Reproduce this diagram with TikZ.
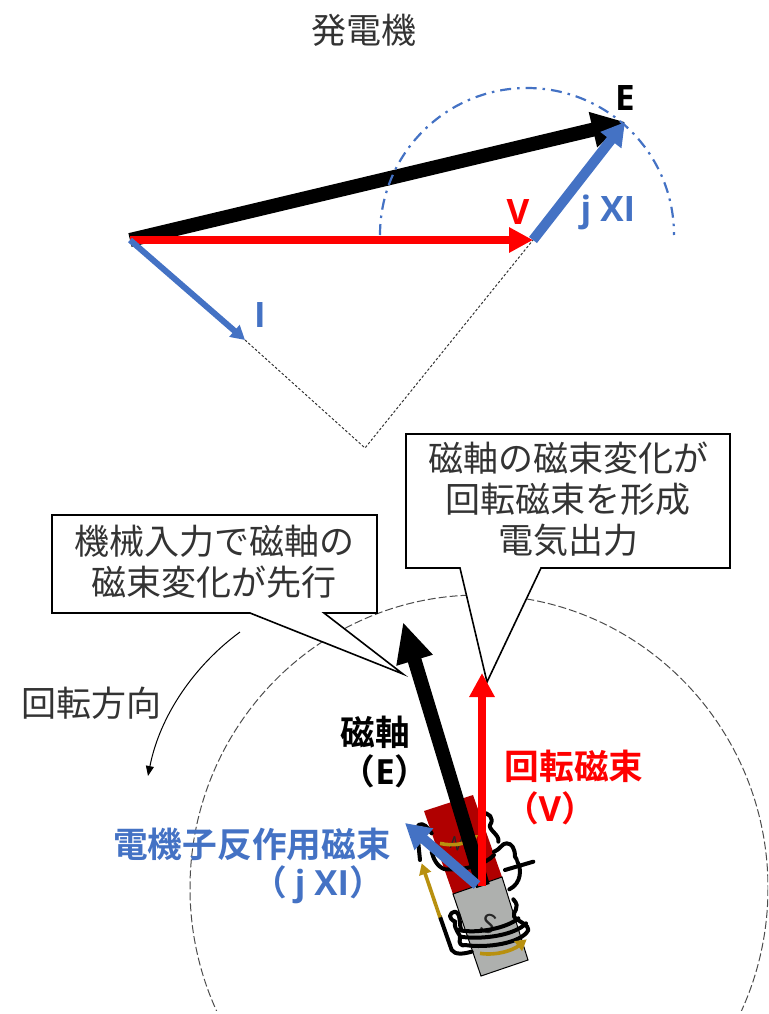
\documentclass[tikz,border=0pt]{standalone}
\usepackage{fontspec}
\setmainfont{Noto Sans CJK JP}[BoldFont={Noto Sans CJK JP Bold}]
\newfontfamily\latn{Open Sans}
\usetikzlibrary{arrows.meta}
\definecolor{vblue}{HTML}{4472C4}
\definecolor{gold}{HTML}{B8900F}
\definecolor{rotorred}{HTML}{B00000}
\definecolor{rotorgray}{HTML}{AEB0AE}
\tikzset{
 txt/.style={font=\fontsize{35}{41}\selectfont,text=black!80,inner sep=0pt,align=center},
 lab/.style={font=\fontsize{34.7}{41}\selectfont\bfseries,inner sep=0pt,align=center},
 ltn/.style={font=\fontsize{35}{41}\selectfont\latn\bfseries,inner sep=0pt,align=center},
 callout/.style={draw=black,line width=1.6pt,fill=white,line join=miter},
 wire/.style={draw=black,line width=4pt,line cap=round,line join=round},
 goldarrow/.style={draw=gold,line width=3.6pt,-{Triangle[length=11pt,width=12pt]}},
}
\begin{document}
\begin{tikzpicture}[x=1pt,y=-1pt]
\useasboundingbox (0,0) rectangle (768,1014);
\coordinate (O) at (130,240);
\coordinate (Vt) at (533,240);
\coordinate (Et) at (625,122);
\coordinate (It) at (245,340);
\coordinate (Dm) at (365,448);
% upper diagram
\draw[black!80,line width=1pt,dash pattern=on 2.5pt off 2pt] (It) -- (Dm) -- (Vt);
\draw[black,line width=14pt,-{Triangle[length=33pt,width=34pt]}] (O) -- (Et);
\draw[vblue,line width=2.2pt,dash pattern=on 11pt off 6pt on 2.5pt off 6pt] (380,235) arc[start angle=180,end angle=360,radius=147];
\draw[red,line width=8.5pt,-{Triangle[length=24pt,width=24pt]}] (O) -- (Vt);
\draw[vblue,line width=10pt,-{Triangle[length=23pt,width=25pt]}] (Vt) -- (Et);
\draw[vblue,line width=6pt,-{Triangle[length=14pt,width=15pt]}] (O) -- (It);
\node[txt] (title) at (364,30) {発電機};
\node[ltn,text=black] (Elab) at (625,98) {E};
\node[ltn,text=red] (Vlab) at (518,212) {V};
\node[ltn,text=vblue] (Xlab) at (608,212) {j XI};
\node[ltn,text=vblue] (Ilab) at (260,315) {I};
% big circle
\begin{scope}
\clip (0,0) rectangle (768,1010);
\draw[black!70,line width=1pt,dash pattern=on 8pt off 3pt] (479,888) ellipse[x radius=289,y radius=293];
\end{scope}
% callouts
\draw[callout] (406,434) -- (730,434) -- (730,568) -- (541,568) -- (487,682) -- (460,568) -- (406,568) -- cycle;
\draw[callout] (52,515) -- (377,515) -- (377,613) -- (324,613) -- (403,674) -- (250,613) -- (52,613) -- cycle;
\node[txt] (c1) at (568,499) {磁軸の磁束変化が\\回転磁束を形成\\電気出力};
\node[txt] (c2) at (214,562) {機械入力で磁軸の\\磁束変化が先行};
% rotation
\node[txt] (rot) at (91,703) {回転方向};
\coordinate (Ra) at (240,632);
\coordinate (Rb) at (148,776);
\draw[black,line width=1pt,-{Triangle[length=10pt,width=8pt]}] (Ra) .. controls (195,665) and (160,715) .. (Rb);
% rotor
\filldraw[fill=rotorred,draw=none] (424,811) -- (473,795) -- (502,877) -- (453,894) -- cycle;
\filldraw[fill=rotorgray,draw=black,line width=1pt] (453,894) -- (502,877) -- (528,960) -- (481,976) -- cycle;
\begin{scope}[shift={(390,780)},scale=1/3]
 \node[font=\fontsize{17}{17}\selectfont,rotate=-20,text=black!85,inner sep=0pt] (Nlet) at (198,190) {N};
 \node[font=\fontsize{26}{26}\selectfont,rotate=-18,text=black!85,inner sep=0pt] (Slet) at (295,432) {S};
 % lead and lower coil
 \draw[wire] (150,410) -- (185,510) .. controls (195,525) and (220,522) .. (245,515);
 \draw[wire] (225,495) .. controls (290,505) and (395,490) .. (415,450) .. controls (418,435) and (385,425) .. (372,410)
   .. controls (365,395) and (395,385) .. (370,358);
 \draw[wire] (210,470) .. controls (280,480) and (375,465) .. (408,430);
 \draw[wire] (195,425) .. controls (175,415) and (175,400) .. (195,395) .. controls (215,400) and (205,435) .. (215,450);
 \draw[wire] (205,450) .. controls (260,462) and (350,445) .. (385,415);
 \draw[wire] (195,425) .. controls (190,450) and (215,465) .. (210,475) .. controls (205,490) and (215,500) .. (225,495);
 % left lead to upper coil
 \draw[wire] (90,240) -- (85,190) -- (85,135) .. controls (100,125) and (115,145) .. (125,160);
 % upper coil
 \draw[wire] (125,215) .. controls (130,235) and (140,260) .. (165,268);
 \draw[wire] (170,268) .. controls (230,272) and (290,250) .. (312,225);
 \draw[wire] (275,100) .. controls (295,95) and (315,115) .. (300,135) .. controls (295,150) and (330,165) .. (325,185);
 \draw[wire] (312,215) .. controls (335,205) and (335,190) .. (350,190) .. controls (365,190) and (375,205) .. (375,230) -- (380,238);
 \draw[wire] (345,270) -- (430,245);
 \draw[wire] (382,245) .. controls (395,265) and (395,310) .. (358,328);
 % gold arrows
 \draw[goldarrow] (150,412) -- (95,250);
 \draw[goldarrow] (270,520) .. controls (320,528) and (370,510) .. (410,478);
 \draw[goldarrow] (150,190) .. controls (190,200) and (225,190) .. (265,165);
\end{scope}
% bottom arrows
\coordinate (Rt) at (483,886);
\coordinate (Bt) at (403,622);
\coordinate (Ft) at (482,673);
\coordinate (Xt) at (405,823);
\coordinate (Xs) at (477,885);
\draw[black,line width=14pt,-{Triangle[length=40pt,width=35pt]}] (Rt) -- (Bt);
\draw[red,line width=8.5pt,-{Triangle[length=24pt,width=24pt]}] (482,886) -- (Ft);
\draw[vblue,line width=10pt,-{Triangle[length=25pt,width=27pt]}] (Xs) -- (Xt);
% labels
\node[lab,text=black] (m1) at (375,732) {磁軸};
\node[lab,text=black] (m2) at (385,771) {（{\latn E}）};
\node[lab,text=red] (r1) at (574,766) {回転磁束};
\node[lab,text=red] (r2) at (550,808) {（{\latn V}）};
\node[lab,text=vblue] (b1) at (252,844) {電機子反作用磁束};
\node[lab,text=vblue] (b2) at (318,885) {（ {\latn j XI}）};
\end{tikzpicture}
\end{document}
